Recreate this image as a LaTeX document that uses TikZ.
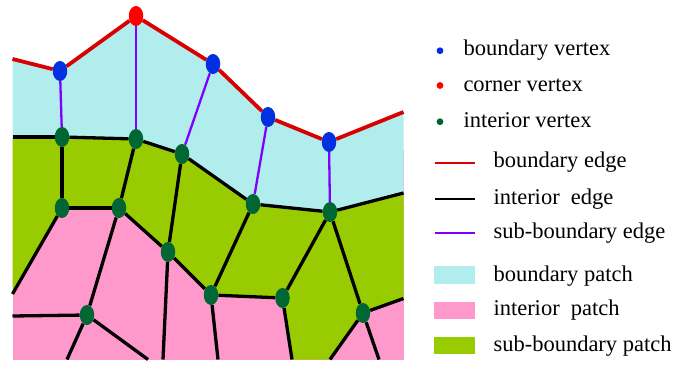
\documentclass[tikz,border=0pt]{standalone}
\usepackage{fontspec}
\setmainfont{Liberation Serif}
\usetikzlibrary{shapes.geometric,backgrounds}
\definecolor{cyanP}{HTML}{B2EDED}
\definecolor{pinkP}{HTML}{FF99CC}
\definecolor{greenP}{HTML}{99CC00}
\definecolor{vblue}{HTML}{0030E0}
\definecolor{vred}{HTML}{FF0000}
\definecolor{vgreen}{HTML}{006633}
\definecolor{ered}{HTML}{D80000}
\definecolor{epurple}{HTML}{8000FF}
\begin{document}
\begin{tikzpicture}[x=1pt,y=-1pt,
  vtx/.style={ellipse,inner sep=0pt,minimum width=14.5pt,minimum height=20pt},
  bv/.style={vtx,fill=vblue},
  cv/.style={vtx,fill=vred},
  iv/.style={vtx,fill=vgreen},
  bedge/.style={draw=ered,line width=3.8pt},
  iedge/.style={draw=black,line width=3.3pt},
  sedge/.style={draw=epurple,line width=2.3pt},
  ldot/.style={circle,inner sep=0pt,minimum size=6.8pt},
  lline/.style={line width=2pt},
  lab/.style={anchor=base west,inner sep=0pt,font=\fontsize{22.5}{27}\selectfont}]
\useasboundingbox (0,0) rectangle (685,374);

% free ends
\coordinate (L0) at (12.5,59);
\coordinate (R0) at (403.5,112);
\coordinate (L1) at (12.5,137);
\coordinate (R1) at (403.5,193);
\coordinate (L2) at (12.5,294);
\coordinate (L3) at (12.5,316);
\coordinate (R2) at (403.5,298.5);
\coordinate (BT1) at (67,359.5);
\coordinate (BT2) at (148,359.5);
\coordinate (BT3) at (163,359.5);
\coordinate (BT4) at (218,359.5);
\coordinate (BT5) at (292,359.5);
\coordinate (BT6) at (330,359.5);
\coordinate (BT7) at (379,359.5);
\coordinate (BR) at (403.5,359.5);

% vertices
\node[bv] (B1) at (60,71) {};
\node[cv] (C) at (136,16) {};
\node[bv] (B2) at (213,64) {};
\node[bv] (B3) at (268,117) {};
\node[bv] (B4) at (329,142) {};
\node[iv] (I1) at (62,137) {};
\node[iv] (I2) at (136,139) {};
\node[iv] (I3) at (182,154) {};
\node[iv] (I4) at (253,204) {};
\node[iv] (I5) at (330,212) {};
\node[iv] (I6) at (62,208) {};
\node[iv] (I7) at (119,208) {};
\node[iv] (I8) at (168,252) {};
\node[iv] (I9) at (211,295) {};
\node[iv] (I10) at (282.5,298) {};
\node[iv] (I11) at (363,313) {};
\node[iv] (I12) at (87,315) {};

\begin{pgfonlayer}{background}
  % patches
  \fill[pinkP] (12.5,150) rectangle (BR);
  \fill[greenP] (L1) -- (I1.center) -- (I2.center) -- (I3.center) -- (I4.center)
     -- (I5.center) -- (R1) -- (R2) -- (I11.center) -- (BT6) -- (BT5)
     -- (I10.center) -- (I9.center) -- (I8.center) -- (I7.center) -- (I6.center)
     -- (L2) -- cycle;
  \fill[cyanP] (L0) -- (B1.center) -- (C.center) -- (B2.center) -- (B3.center)
     -- (B4.center) -- (R0) -- (R1) -- (I5.center) -- (I4.center) -- (I3.center)
     -- (I2.center) -- (I1.center) -- (L1) -- cycle;
  % boundary edges
  \draw[bedge] (L0) -- (B1) -- (C) -- (B2) -- (B3) -- (B4) -- (R0);
  % sub-boundary edges
  \draw[sedge] (B1) -- (I1);
  \draw[sedge] (C) -- (I2);
  \draw[sedge] (B2) -- (I3);
  \draw[sedge] (B3) -- (I4);
  \draw[sedge] (B4) -- (I5);
  % interior edges
  \draw[iedge] (L1) -- (I1);
  \draw[iedge] (I1) -- (I2);
  \draw[iedge] (I2) -- (I3);
  \draw[iedge] (I3) -- (I4);
  \draw[iedge] (I4) -- (I5);
  \draw[iedge] (I5) -- (R1);
  \draw[iedge] (I1) -- (I6);
  \draw[iedge] (I2) -- (I7);
  \draw[iedge] (I6) -- (I7);
  \draw[iedge] (I3) -- (I8);
  \draw[iedge] (I7) -- (I8);
  \draw[iedge] (I8) -- (I9);
  \draw[iedge] (I4) -- (I9);
  \draw[iedge] (I9) -- (I10);
  \draw[iedge] (I5) -- (I10);
  \draw[iedge] (I5) -- (I11);
  \draw[iedge] (I11) -- (R2);
  \draw[iedge] (I6) -- (L2);
  \draw[iedge] (I7) -- (I12);
  \draw[iedge] (I12) -- (L3);
  \draw[iedge] (I12) -- (BT1);
  \draw[iedge] (I12) -- (BT2);
  \draw[iedge] (I8) -- (BT3);
  \draw[iedge] (I9) -- (BT4);
  \draw[iedge] (I10) -- (BT5);
  \draw[iedge] (I11) -- (BT6);
  \draw[iedge] (I11) -- (BT7);
\end{pgfonlayer}

% legend
\node[ldot,fill=vblue] (kd1) at (440,50.7) {};
\node[ldot,fill=vred] (kd2) at (440,85.5) {};
\node[ldot,fill=vgreen] (kd3) at (440,121.7) {};
\node[lab] (kt1) at (463.3,56) {boundary vertex};
\node[lab] (kt2) at (463.3,91.5) {corner vertex};
\node[lab] (kt3) at (463.3,127.7) {interior vertex};

\coordinate (ka4) at (435,163); \coordinate (kb4) at (475,163);
\coordinate (ka5) at (435,199); \coordinate (kb5) at (475,199);
\coordinate (ka6) at (435,233); \coordinate (kb6) at (475,233);
\draw[lline,draw=ered] (ka4) -- (kb4);
\draw[lline,draw=black] (ka5) -- (kb5);
\draw[lline,draw=epurple] (ka6) -- (kb6);
\node[lab] (kt4) at (493.3,167.7) {boundary edge};
\node[lab] (kt5) at (493.3,204.3) {interior\ \ edge};
\node[lab] (kt6) at (493.3,238.3) {sub-boundary edge};

\fill[cyanP] (434.3,266) rectangle (475,284.3);
\fill[pinkP] (434.3,301.7) rectangle (475,319);
\fill[greenP] (434.3,337.3) rectangle (475,354);
\node[lab] (kt7) at (493.3,281) {boundary patch};
\node[lab] (kt8) at (493.3,315) {interior\ \ patch};
\node[lab] (kt9) at (493.3,351.7) {sub-boundary patch};
\end{tikzpicture}
\end{document}
